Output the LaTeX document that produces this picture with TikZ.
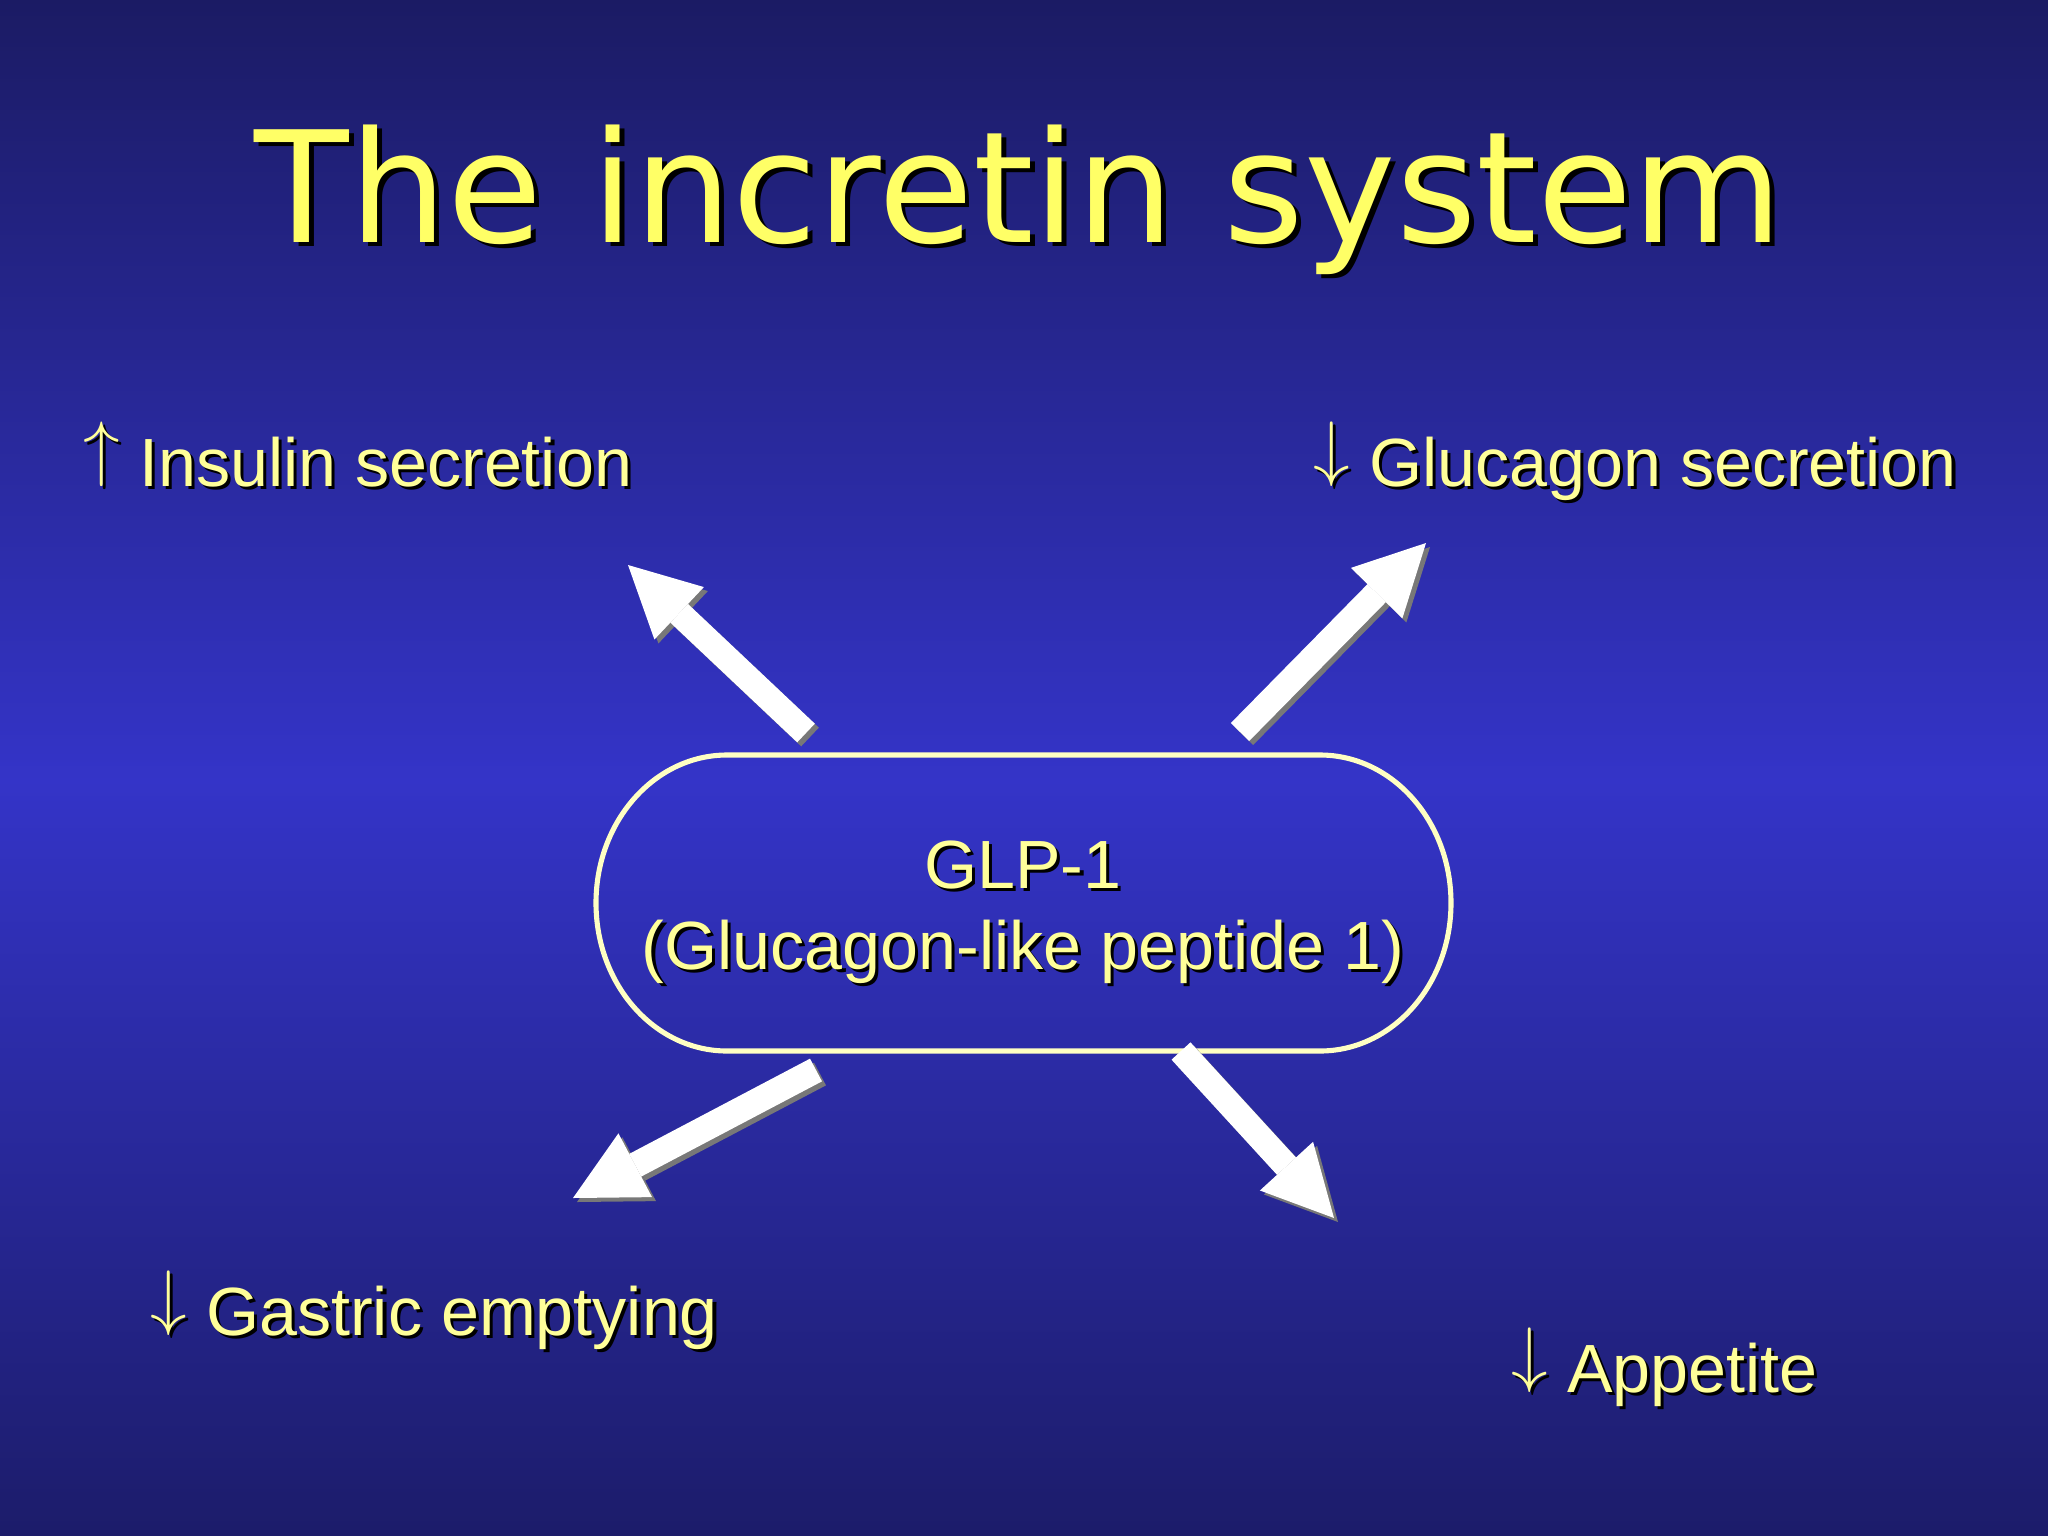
\documentclass[tikz,border=0pt]{standalone}
\usepackage{fontspec}
\setmainfont{Liberation Sans}
\newfontfamily\titlefont{DejaVu Sans}
\usetikzlibrary{arrows.meta,calc}
\definecolor{bgtop}{RGB}{27,27,100}
\definecolor{bgmid}{RGB}{52,52,200}
\definecolor{bgbot}{RGB}{28,28,106}
\definecolor{titleyel}{RGB}{255,255,102}
\definecolor{txtyel}{RGB}{255,255,153}
\definecolor{ringcol}{RGB}{255,255,195}
\definecolor{arrowgray}{RGB}{120,120,120}
\newcommand\shtxt[2]{\makebox[0pt][l]{\hspace*{#1}\raisebox{-#1}{\color{black}#2}}#2}
\newcommand\upar{\raisebox{0.194em}{$\uparrow$}}
\newcommand\dnar{\raisebox{0.194em}{$\downarrow$}}
\tikzset{
  lbl/.style={inner sep=0pt, text=txtyel, font=\fontsize{19.4}{23}\selectfont},
  blockarrow/.style={line width=7.3pt, draw=white, -{Triangle[length=20pt, width=20.5pt, line width=0pt]}},
  blockshadow/.style={blockarrow, draw=arrowgray},
  ring/.style={draw=ringcol, line width=1.45pt}
}
\begin{document}
\begin{tikzpicture}[x=0.01cm,y=-0.01cm]
\useasboundingbox (0,0) rectangle (2048,1536);
\shade[top color=bgtop, bottom color=bgmid] (0,0) rectangle (2048,781);
\shade[top color=bgmid, bottom color=bgbot] (0,780) rectangle (2048,1536);

% title
\node[anchor=base, inner sep=0pt, text=titleyel, font=\titlefont\fontsize{44}{50}\selectfont] (title) at (1019,242) {\shtxt{1.4pt}{The incretin system}};

% central stadium
\draw[ring] (727,755) -- (1320,755) arc[start angle=-90, end angle=90, x radius=131, y radius=148]
  -- (727,1051) arc[start angle=90, end angle=270, x radius=131, y radius=148] -- cycle;
\node[lbl, align=center] (glp) at (1023,914) {\shtxt{0.9pt}{GLP-1}\\\shtxt{0.9pt}{(Glucagon-like peptide 1)}};

% effect labels
\node[lbl, anchor=base west] (ins) at (83,486) {\shtxt{0.9pt}{\upar\ Insulin secretion}};
\node[lbl, anchor=base west] (glu) at (1313,486) {\shtxt{0.9pt}{\dnar\ Glucagon secretion}};
\node[lbl, anchor=base west] (gas) at (150,1335) {\shtxt{0.9pt}{\dnar\ Gastric emptying}};
\node[lbl, anchor=base west] (app) at (1511,1392) {\shtxt{0.9pt}{\dnar\ Appetite}};

% arrow end points
\coordinate (a1s) at (806,733);  \coordinate (a1e) at (628,565);
\coordinate (a2s) at (1240,732); \coordinate (a2e) at (1426,543);
\coordinate (a3s) at (816,1070); \coordinate (a3e) at (573,1198);
\coordinate (a4s) at (1181,1051);\coordinate (a4e) at (1334,1218);

\foreach \s/\e in {a1s/a1e,a2s/a2e,a3s/a3e,a4s/a4e}{
  \draw[blockshadow] ($(\s)+(4,4)$) -- ($(\e)+(4,4)$);
}
\foreach \s/\e in {a1s/a1e,a2s/a2e,a3s/a3e,a4s/a4e}{
  \draw[blockarrow] (\s) -- (\e);
}
\end{tikzpicture}
\end{document}
